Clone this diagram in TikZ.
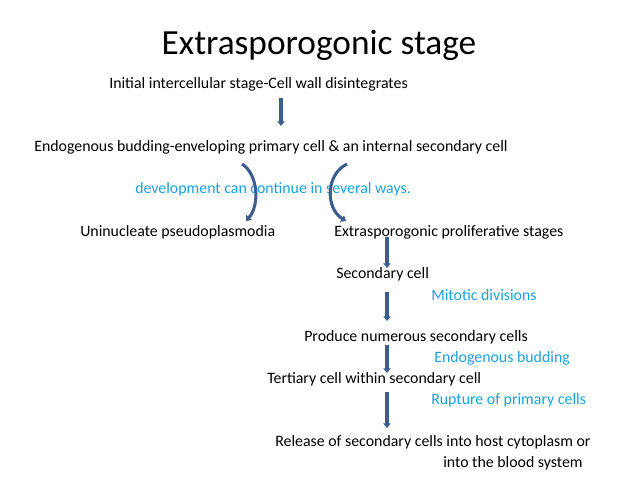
\documentclass[tikz,border=0pt]{standalone}
\usepackage{fontspec}
\setmainfont{Carlito}
\usetikzlibrary{arrows.meta}
\definecolor{arr}{HTML}{3B5E8E}
\definecolor{lb}{HTML}{1DA1DC}
\begin{document}
\begin{tikzpicture}[x=0.75pt,y=-0.75pt,
  t/.style={anchor=west,inner sep=0pt,font=\fontsize{11.9}{14}\selectfont},
  b/.style={t,text=lb},
  a/.style={draw=arr,line width=2.3pt,-{Triangle[length=3.5pt,width=5.5pt]}}]
\useasboundingbox (0,0) rectangle (638,478);
\node[inner sep=0pt,font=\fontsize{26.5}{30}\selectfont] (title) at (319,45) {Extrasporogonic stage};
\node[t] (n1) at (109,84) {Initial intercellular stage-Cell wall disintegrates};
\node[t] (n2) at (34,147) {Endogenous budding-enveloping primary cell \& an internal secondary cell};
\node[b] (d) at (135,189) {development can continue in several ways.};
\node[t] (u) at (80,232) {Uninucleate pseudoplasmodia};
\node[t] (e) at (334,232) {Extrasporogonic proliferative stages};
\node[t] (s) at (336,274) {Secondary cell};
\node[b] (m) at (431,295) {Mitotic divisions};
\node[t] (p) at (304,337) {Produce numerous secondary cells};
\node[b] (eb) at (434,358) {Endogenous budding};
\node[t] (tc) at (267,379) {Tertiary cell within secondary cell};
\node[b] (r) at (431,400) {Rupture of primary cells};
\node[t] (rel) at (275,442) {Release of secondary cells into host cytoplasm or};
\node[t] (rel2) at (443,463) {into the blood system};
\coordinate (a1s) at (281,98); \coordinate (a1e) at (281,126);
\draw[a] (a1s) -- (a1e);
\coordinate (l1) at (242,164); \coordinate (l2) at (246,221);
\draw[a] (l1) .. controls (258,174) and (260,205) .. (l2);
\coordinate (r1) at (347,164); \coordinate (r2) at (346,221);
\draw[a] (r1) .. controls (326,174) and (325,208) .. (r2);
\foreach \ys/\ye in {237/268,292/321,345/373,392/428}
  \draw[a] (387,\ys) -- (387,\ye);
\end{tikzpicture}
\end{document}
